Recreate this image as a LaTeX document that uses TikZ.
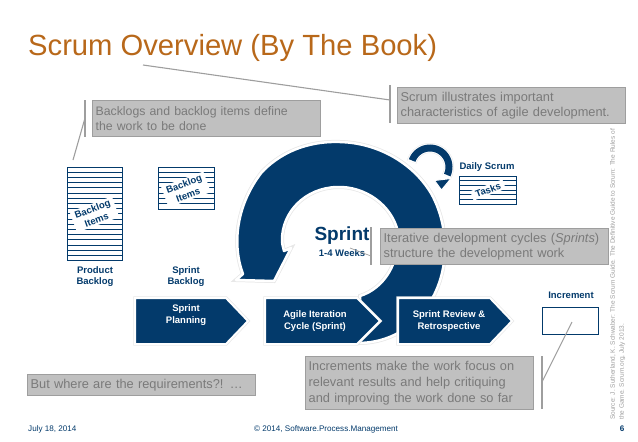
\documentclass[tikz,border=0pt]{standalone}
\usepackage{fontspec}
\setmainfont{Liberation Sans}
\usetikzlibrary{calc}
\definecolor{navy}{HTML}{033A6B}
\definecolor{haze}{HTML}{E8E8E8}
\definecolor{boxgray}{HTML}{C0C0C0}
\definecolor{boxedge}{HTML}{9E9E9E}
\definecolor{boxtext}{HTML}{7A7A7A}
\definecolor{titleorange}{HTML}{B8681A}
\tikzset{
  graybox/.style={draw=boxedge,fill=boxgray,line width=1.3pt,text=boxtext,anchor=north west,align=left,inner xsep=3pt,inner ysep=0pt,minimum width=228pt,text width=222pt,font=\fontsize{12.8}{15.8}\selectfont},
  callout/.style={draw=boxedge,line width=1.1pt},
  listbox/.style={draw=navy,line width=1.2pt,anchor=north west,inner sep=0pt,fill=white},
  rulings/.style={draw=navy,line width=0.8pt},
  tilt/.style={fill=white,text=navy,rotate=20,align=center,inner xsep=4pt,inner ysep=1.5pt,font=\bfseries\fontsize{9.5}{12}\selectfont},
  capt/.style={text=navy,align=center,font=\bfseries\fontsize{9.5}{11.5}\selectfont,inner sep=0pt},
  chevshape/.style={preaction={draw=haze,line width=3.4pt},fill=navy,draw=white,line width=2pt,line join=miter},
  chevtext/.style={text=white,align=center,font=\bfseries\fontsize{9.5}{12}\selectfont,inner sep=0pt},
}
\begin{document}
\begin{tikzpicture}[x=1pt,y=-1pt]
\useasboundingbox (0,0) rectangle (638,442);
\node[anchor=base west,inner sep=0pt,text=titleorange,font=\fontsize{29.2}{32}\selectfont] (title) at (28,55) {Scrum Overview (By The Book)};

% small daily arrow
\draw[haze,line width=10pt] plot[smooth,domain=165:-30,samples=30] ({430+19*cos(\x)},{167-19*sin(\x)});
\draw[white,line width=9pt] plot[smooth,domain=165:-30,samples=30] ({430+19*cos(\x)},{167-19*sin(\x)});
\draw[navy,line width=7pt] plot[smooth,domain=160:-25,samples=30] ({430+19*cos(\x)},{167-19*sin(\x)});
\path[fill=navy,draw=white,line width=1pt] (434.5,180.5) -- (441.5,190) -- (451,178.5) -- cycle;

% big sprint arrow
\path[chevshape,line width=2.5pt,preaction={draw=haze,line width=4pt},line join=round]
  (243,274)
  .. controls (232,245) and (236,205) .. (262,172)
  .. controls (285,148) and (315,141) .. (340,142)
  .. controls (380,143) and (415,165) .. (432,195)
  .. controls (448,225) and (450,265) .. (433,297)
  .. controls (420,322) and (395,342) .. (360,343)
  -- (360,296)
  .. controls (385,288) and (400,262) .. (398,232)
  .. controls (392,205) and (365,186) .. (337,187)
  .. controls (305,188) and (282,212) .. (282,240)
  .. controls (282,244) and (283,247) .. (284,251)
  -- (291,248) -- (274,281) -- (236,280) -- cycle;

% product backlog
\node[listbox,minimum width=55pt,minimum height=93pt] (pb) at (67,167) {};
\foreach \k in {1,...,17} \draw[rulings] ($(pb.north west)+(0,5.2*\k)$) -- ($(pb.north east)+(0,5.2*\k)$);
\node[tilt] (pbt) at (94.5,214.5) {Backlog\\Items};
\node[capt] (pbc) at (95,276.5) {Product\\Backlog};

% sprint backlog
\node[listbox,minimum width=56pt,minimum height=42pt] (sb) at (158,167) {};
\foreach \k in {1,...,7} \draw[rulings] ($(sb.north west)+(0,5.2*\k)$) -- ($(sb.north east)+(0,5.2*\k)$);
\node[tilt] (sbt) at (186,189.5) {Backlog\\Items};
\node[capt] (sbc) at (186,276.5) {Sprint\\Backlog};

% daily scrum
\node[capt] (dsc) at (487,167) {Daily Scrum};
\node[listbox,minimum width=57pt,minimum height=28pt] (ds) at (459,176) {};
\foreach \k in {1,...,5} \draw[rulings] ($(ds.north west)+(0,4.7*\k)$) -- ($(ds.north east)+(0,4.7*\k)$);
\node[tilt] (dst) at (488,190) {Tasks};

% increment
\node[capt] (inc) at (571,295) {Increment};
\node[listbox,minimum width=56pt,minimum height=27pt] (incb) at (542,307) {};

% chevrons
\path[chevshape] (135,298) -- (226,298) -- (248,321) -- (226,344) -- (135,344) -- cycle;
\node[chevtext] (c1) at (186,315) {Sprint\\Planning};
\path[chevshape] (265,298) -- (357,298) -- (380,321) -- (357,344) -- (265,344) -- cycle;
\node[chevtext] (c2) at (315,321) {Agile Iteration\\Cycle (Sprint)};
\path[chevshape] (398,298) -- (490,298) -- (512,321) -- (490,344) -- (398,344) -- cycle;
\node[chevtext] (c3) at (449,321) {Sprint Review \&\\Retrospective};

% centre
\node[text=navy,font=\bfseries\fontsize{19}{21}\selectfont,inner sep=0pt] (sprint) at (342,236) {Sprint};
\node[text=navy,font=\bfseries\fontsize{9.5}{11}\selectfont,inner sep=0pt] (weeks) at (342,253) {1-4 Weeks};

% callouts
\coordinate (a1) at (143,65);
\coordinate (a2) at (390,100);
\coordinate (a3) at (390,85);
\coordinate (a4) at (390,123);
\draw[callout] (a1) -- (a2);
\draw[callout] (a3) -- (a4);
\coordinate (b1) at (85,100);
\coordinate (b2) at (85,137);
\coordinate (b3) at (85,118);
\coordinate (b4) at (73,160);
\draw[callout] (b1) -- (b2);
\draw[callout] (b3) -- (b4);
\coordinate (d1) at (371,227);
\coordinate (d2) at (371,265);
\coordinate (d3) at (371,256);
\coordinate (d4) at (350,248);
\draw[callout] (d1) -- (d2);
\draw[callout,line width=0.7pt] (d3) -- (d4);
\coordinate (e1) at (542,356);
\coordinate (e2) at (542,409);
\coordinate (e3) at (542,382);
\coordinate (e4) at (572,322);
\draw[callout] (e1) -- (e2);
\draw[callout] (e3) -- (e4);

% gray boxes
\node[graybox,minimum height=36pt,font=\fontsize{12.3}{15.8}\selectfont] (g1) at (92,100) {Backlogs and backlog items define\\the work to be done};
\node[graybox,minimum height=36pt] (g2) at (397,87) {Scrum illustrates important\\characteristics of agile development.};
\node[graybox,minimum height=36pt] (g3) at (380,228) {Iterative development cycles (\textit{Sprints})\\structure the development work};
\node[graybox,minimum height=53pt] (g4) at (305,356) {Increments make the work focus on\\relevant results and help critiquing\\and improving the work done so far};
\node[graybox,minimum height=21pt] (g5) at (27,374) {But where are the requirements?! …};

% side source
\node[rotate=90,anchor=north west,text=boxedge,align=left,inner sep=0pt,font=\fontsize{6.5}{9}\selectfont] (src) at (610,420) {Source: J. Sutherland, K. Schwaber: The Scrum Guide. The Definitive Guide to Scrum: The Rules of\\the Game. Scrum.org, July 2013.};

% footer
\node[anchor=base west,inner sep=0pt,text=navy,font=\fontsize{8.1}{9}\selectfont] (f1) at (28,431) {July 18, 2014};
\node[anchor=base,inner sep=0pt,text=navy,font=\fontsize{8.1}{9}\selectfont] (f2) at (326,431) {© 2014, Software.Process.Management};
\node[anchor=base,inner sep=0pt,text=navy,font=\bfseries\fontsize{8.1}{9}\selectfont] (f3) at (622,431) {6};
\end{tikzpicture}
\end{document}
